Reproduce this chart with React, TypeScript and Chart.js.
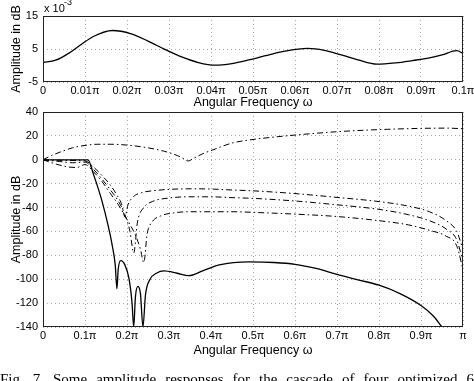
import React, { useEffect, useRef } from 'react';
import { Chart, registerables } from 'chart.js';

Chart.register(...registerables);

const FONT = '"Liberation Sans", Arial, Helvetica, sans-serif';

// ---------- top chart (passband detail, x 10^-3 dB) ----------
const topFreq = [0, 0.003, 0.006, 0.009, 0.012, 0.0165, 0.021, 0.025, 0.029, 0.033, 0.037, 0.041, 0.045, 0.049, 0.053, 0.057, 0.063, 0.067, 0.071, 0.075, 0.0795, 0.084, 0.088, 0.092, 0.095, 0.0985, 0.1];
const topAmp = [0.9, 1.6, 3.6, 6.3, 8.8, 10.6, 9.6, 7.4, 4.9, 2.6, 0.9, 0.1, 0.6, 1.7, 3.0, 4.2, 5.2, 4.6, 3.2, 1.7, 0.4, 0.8, 1.5, 2.3, 3.2, 4.5, 3.7];
const topXTicks = [0, 0.01, 0.02, 0.03, 0.04, 0.05, 0.06, 0.07, 0.08, 0.09, 0.1];
const topXLabels = ['0', '0.01π', '0.02π', '0.03π', '0.04π', '0.05π', '0.06π', '0.07π', '0.08π', '0.09π', '0.1π'];
const topYTicks = [-5, 5, 15];

// ---------- bottom chart (full band, dB) ----------
const solidX = [0, 0.05, 0.107, 0.12, 0.14, 0.155, 0.165, 0.172, 0.176, 0.179, 0.185, 0.195, 0.205, 0.212, 0.216, 0.22, 0.226, 0.232, 0.238, 0.244, 0.255, 0.27, 0.288, 0.32, 0.347, 0.38, 0.42, 0.49, 0.55, 0.6, 0.65, 0.7, 0.75, 0.8, 0.85, 0.9, 0.93, 0.95];
const solidY = [0, 0, 0, -12, -34, -55, -72, -88, -108, -92, -84.5, -88, -100, -120, -140, -115, -106, -112, -140, -113, -100, -95, -93, -95, -97, -93, -88, -85.5, -86, -87.5, -91, -96, -100.5, -105, -112, -122, -131, -140];

const aX = [0, 0.02, 0.045, 0.07, 0.1, 0.13, 0.16, 0.2, 0.25, 0.29, 0.32, 0.335, 0.345, 0.36, 0.38, 0.41, 0.45, 0.5, 0.55, 0.6, 0.68, 0.75, 0.82, 0.9, 0.96, 1];
const aY = [0, 3.5, 7, 10, 12, 13, 13, 12.3, 10, 7, 3.5, 1, -1, 1.5, 5, 9, 14, 17, 19, 20.7, 23, 24.5, 25.5, 26.3, 26.5, 26];

const bX = [0, 0.05, 0.1, 0.12, 0.14, 0.16, 0.175, 0.188, 0.195, 0.202, 0.215, 0.235, 0.26, 0.3, 0.35, 0.4, 0.45, 0.5, 0.6, 0.7, 0.8, 0.87, 0.92, 0.96, 0.985, 1];
const bY = [0, -0.5, -1, -6, -13, -21, -29, -38, -48, -38, -31, -27.5, -26, -24.8, -24.3, -24.5, -25.3, -26, -28.3, -31.5, -35, -38.8, -43.5, -51, -60, -75];

const cX = [0, 0.04, 0.07, 0.1, 0.12, 0.14, 0.16, 0.18, 0.195, 0.207, 0.216, 0.225, 0.24, 0.26, 0.3, 0.35, 0.4, 0.45, 0.5, 0.6, 0.7, 0.8, 0.87, 0.92, 0.96, 0.985, 1];
const cY = [0, -1.5, -2.5, -2, -8, -16, -25, -35, -46, -60, -78, -52, -40, -35, -32, -31, -31, -31.7, -32.3, -34.5, -37.7, -41.5, -46, -51, -58, -67, -85];

const dX = [0, 0.03, 0.06, 0.08, 0.1, 0.12, 0.14, 0.16, 0.18, 0.2, 0.22, 0.232, 0.24, 0.248, 0.26, 0.28, 0.31, 0.35, 0.4, 0.45, 0.5, 0.6, 0.7, 0.8, 0.87, 0.92, 0.96, 0.985, 1];
const dY = [0, -3.5, -6, -6.5, -4, -10, -18, -28, -38, -50, -63, -75, -86, -62, -52, -47, -44.5, -43.5, -43.5, -43.5, -44, -45.5, -47.5, -51, -54.5, -59, -64, -72, -92];

const botXTicks = [0, 0.1, 0.2, 0.3, 0.4, 0.5, 0.6, 0.7, 0.8, 0.9, 1];
const botXLabels = ['0', '0.1π', '0.2π', '0.3π', '0.4π', '0.5π', '0.6π', '0.7π', '0.8π', '0.9π', 'π'];
const botYTicks = [40, 20, 0, -20, -40, -60, -80, -100, -120, -140];

const xTitle = 'Angular Frequency ω';
const yTitle = 'Amplitude in dB';
const caption = 'Fig. 7.   Some amplitude responses for the cascade of four optimized 6';

const DASHDOT = [6, 3, 1.5, 3];
const GRID = '#a8a8a8';

const boxPlugin = {
  id: 'box',
  afterDatasetsDraw(chart: any) {
    const { ctx, chartArea: a } = chart;
    ctx.save();
    ctx.strokeStyle = '#222';
    ctx.lineWidth = 1;
    ctx.setLineDash([]);
    ctx.strokeRect(a.left + 0.5, a.top + 0.5, a.right - a.left - 1, a.bottom - a.top - 1);
    ctx.restore();
  },
};

const expPlugin = {
  id: 'exp',
  afterDraw(chart: any) {
    const { ctx } = chart;
    ctx.save();
    ctx.fillStyle = '#000';
    ctx.font = `11px ${FONT}`;
    ctx.textBaseline = 'alphabetic';
    ctx.fillText('x 10', 44, 12);
    ctx.font = `9px ${FONT}`;
    ctx.fillText('-3', 64, 5);
    ctx.restore();
  },
};

const pts = (xs: number[], ys: number[]) => xs.map((x, i) => ({ x, y: ys[i] }));

const line = (xs: number[], ys: number[], dash: number[], width: number) => ({
  data: pts(xs, ys),
  borderColor: '#000',
  borderWidth: width,
  borderDash: dash,
  pointRadius: 0,
  fill: false,
  cubicInterpolationMode: 'monotone',
});

function makeScales(opts: {
  xMin: number; xMax: number; xTicks: number[]; xLabels: string[];
  yMin: number; yMax: number; yTicks: number[];
  xHeight: number; xTitlePad: number;
}) {
  return {
    x: {
      type: 'linear',
      min: opts.xMin,
      max: opts.xMax,
      afterBuildTicks: (s: any) => { s.ticks = opts.xTicks.map((v) => ({ value: v })); },
      afterFit: (s: any) => { s.height = opts.xHeight; s.paddingLeft = 0; s.paddingRight = 0; },
      ticks: {
        callback: (_v: any, i: number) => opts.xLabels[i],
        font: { family: FONT, size: 11 },
        color: '#000',
        padding: 2,
        maxRotation: 0,
        autoSkip: false,
      },
      grid: { color: GRID, drawTicks: false, lineWidth: 1 },
      border: { display: false, dash: [1, 3] },
      title: {
        display: true,
        text: xTitle,
        font: { family: FONT, size: 12.5 },
        color: '#000',
        padding: { top: 0, bottom: opts.xTitlePad },
      },
    },
    y: {
      type: 'linear',
      min: opts.yMin,
      max: opts.yMax,
      afterBuildTicks: (s: any) => { s.ticks = opts.yTicks.map((v) => ({ value: v })); },
      afterFit: (s: any) => { s.width = 43; s.paddingTop = 0; s.paddingBottom = 0; },
      ticks: {
        callback: (v: any) => String(v),
        font: { family: FONT, size: 11 },
        color: '#000',
        padding: 5,
        autoSkip: false,
      },
      grid: { color: GRID, drawTicks: false, lineWidth: 1 },
      border: { display: false, dash: [1, 3] },
      title: {
        display: true,
        text: yTitle,
        font: { family: FONT, size: 12.5 },
        color: '#000',
        padding: { top: 9, bottom: 0 },
      },
    },
  };
}

function TopChart() {
  const ref = useRef<HTMLCanvasElement>(null);
  useEffect(() => {
    if (!ref.current) return;
    const chart = new Chart(ref.current, {
      type: 'line',
      data: { datasets: [line(topFreq, topAmp, [], 1.3) as any] },
      options: {
        responsive: false,
        animation: false,
        events: [],
        layout: { padding: { top: 16, right: 11, left: 0, bottom: 0 } },
        plugins: { legend: { display: false }, tooltip: { enabled: false } },
        scales: makeScales({
          xMin: 0, xMax: 0.1, xTicks: topXTicks, xLabels: topXLabels,
          yMin: -5, yMax: 15, yTicks: topYTicks,
          xHeight: 28, xTitlePad: 0,
        }) as any,
      },
      plugins: [boxPlugin, expPlugin],
    });
    return () => chart.destroy();
  }, []);
  return (
    <canvas ref={ref} width={474} height={110}
      style={{ position: 'absolute', left: 0, top: 0, width: 474, height: 110 }} />
  );
}

function BottomChart() {
  const ref = useRef<HTMLCanvasElement>(null);
  useEffect(() => {
    if (!ref.current) return;
    const chart = new Chart(ref.current, {
      type: 'line',
      data: {
        datasets: [
          line(aX, aY, DASHDOT, 1) as any,
          line(bX, bY, DASHDOT, 1) as any,
          line(cX, cY, DASHDOT, 1) as any,
          line(dX, dY, DASHDOT, 1) as any,
          line(solidX, solidY, [], 1.3) as any,
        ],
      },
      options: {
        responsive: false,
        animation: false,
        events: [],
        layout: { padding: { top: 8, right: 11, left: 0, bottom: 0 } },
        plugins: { legend: { display: false }, tooltip: { enabled: false } },
        scales: makeScales({
          xMin: 0, xMax: 1, xTicks: botXTicks, xLabels: botXLabels,
          yMin: -140, yMax: 40, yTicks: botYTicks,
          xHeight: 54, xTitlePad: 23,
        }) as any,
      },
      plugins: [boxPlugin],
    });
    return () => chart.destroy();
  }, []);
  return (
    <canvas ref={ref} width={474} height={277}
      style={{ position: 'absolute', left: 0, top: 104, width: 474, height: 277 }} />
  );
}

export default function App() {
  return (
    <div style={{ position: 'fixed', left: 0, top: 0, width: 474, height: 381, overflow: 'hidden', background: '#fff' }}>
      <TopChart />
      <BottomChart />
      <div
        style={{
          position: 'absolute', left: 0, top: 370, width: 474,
          fontFamily: '"Liberation Serif", "Times New Roman", serif',
          fontSize: 15, lineHeight: '18px', color: '#000',
          textAlign: 'justify', textAlignLast: 'justify' as any,
        }}
      >
        {caption}
      </div>
    </div>
  );
}
